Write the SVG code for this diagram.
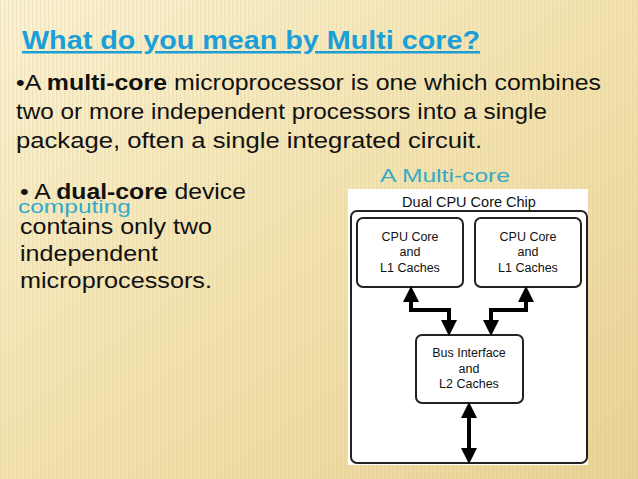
<svg xmlns="http://www.w3.org/2000/svg" width="638" height="479" viewBox="0 0 638 479">
<defs>
<linearGradient id="bg" x1="0" y1="0" x2="1" y2="1">
<stop offset="0" stop-color="#fbf3d6"/><stop offset="0.5" stop-color="#f3e3b0"/><stop offset="1" stop-color="#e9d396"/>
</linearGradient>
<pattern id="st" width="4" height="10" patternUnits="userSpaceOnUse"><rect width="1.5" height="10" fill="#d9c287" opacity="0.25"/></pattern>
<marker id="ah" viewBox="0 0 10 10" refX="5" refY="5" markerWidth="4" markerHeight="4" orient="auto-start-reverse"><path d="M0,0 L10,5 L0,10 z" fill="#000"/></marker>
</defs>
<style>
.t{font-family:"Liberation Sans",Arial,sans-serif;fill:#111}
.b{font-size:22.5px}
.d{font-size:12.5px;text-anchor:middle}
.box{fill:#fff;stroke:#222;stroke-width:2}
.c{fill:none;stroke:#000;stroke-width:4;marker-start:url(#ah);marker-end:url(#ah)}
</style>
<rect width="638" height="479" fill="url(#bg)"/>
<rect width="638" height="479" fill="url(#st)"/>
<text class="t" x="22" y="49" textLength="458" lengthAdjust="spacingAndGlyphs" style="font-size:25px;font-weight:bold;fill:#1a9fd8;text-decoration:underline">What do you mean by  Multi core?</text>
<text class="t b" x="16" y="90" textLength="585" lengthAdjust="spacingAndGlyphs">•A <tspan font-weight="bold">multi-core</tspan> microprocessor is one which combines</text>
<text class="t b" x="16" y="119" textLength="531" lengthAdjust="spacingAndGlyphs">two or more independent processors into a single</text>
<text class="t b" x="16" y="148" textLength="466" lengthAdjust="spacingAndGlyphs">package, often a single integrated circuit.</text>
<text class="t" x="380" y="182" textLength="130" lengthAdjust="spacingAndGlyphs" style="font-size:19px;fill:#36a9c8">A Multi-core</text>
<text class="t" x="18" y="213" textLength="113" lengthAdjust="spacingAndGlyphs" style="font-size:19px;fill:#36a9c8">computing</text>
<text class="t b" x="20" y="199" textLength="226" lengthAdjust="spacingAndGlyphs">• A <tspan font-weight="bold">dual-core</tspan> device</text>
<text class="t b" x="20" y="234" textLength="192" lengthAdjust="spacingAndGlyphs">contains only two</text>
<text class="t b" x="20" y="261" textLength="138" lengthAdjust="spacingAndGlyphs">independent</text>
<text class="t b" x="20" y="288" textLength="192" lengthAdjust="spacingAndGlyphs">microprocessors.</text>
<rect x="348" y="189" width="240" height="276" fill="#fff"/>
<g id="chip"><rect class="box" x="351" y="211" width="236" height="252" rx="6"/>
<text class="t" x="469" y="207" style="font-size:14.5px;text-anchor:middle">Dual CPU Core Chip</text></g>
<g id="core1"><rect class="box" x="357" y="218" width="106" height="69" rx="6"/>
<text class="t d" x="410" y="241">CPU Core</text><text class="t d" x="410" y="256">and</text><text class="t d" x="410" y="272">L1 Caches</text></g>
<g id="core2"><rect class="box" x="475" y="218" width="106" height="69" rx="6"/>
<text class="t d" x="528" y="241">CPU Core</text><text class="t d" x="528" y="256">and</text><text class="t d" x="528" y="272">L1 Caches</text></g>
<g id="bus"><rect class="box" x="416" y="335" width="107" height="68" rx="6"/>
<text class="t d" x="469" y="357">Bus Interface</text><text class="t d" x="469" y="373">and</text><text class="t d" x="469" y="388">L2 Caches</text></g>
<g id="connectors">
<path class="c" d="M411,294 V310 H449 V328"/>
<path class="c" d="M526,294 V310 H491 V328"/>
<path class="c" d="M469,410 V456"/>
</g>
</svg>
